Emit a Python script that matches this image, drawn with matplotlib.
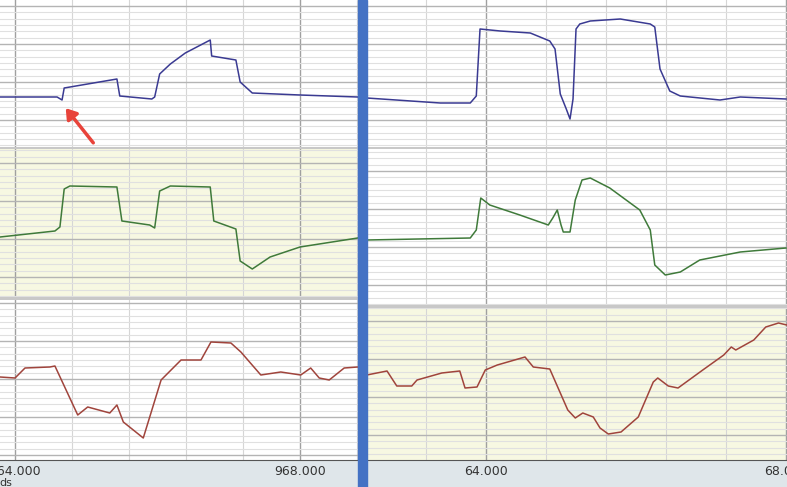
import matplotlib
matplotlib.use("Agg")
import matplotlib.pyplot as plt
from matplotlib.ticker import MultipleLocator
from matplotlib.patches import Rectangle, FancyArrowPatch

# ── Data (time in seconds, amplitude in arbitrary units) ───────────────────
left_blue_t = [963.79, 964.59, 964.66, 964.69, 965.43, 965.47, 965.92, 965.96, 966.03,
               966.18, 966.39, 966.74, 966.76, 967.10, 967.16, 967.33, 968.00, 968.81]
left_blue_v = [50, 50, 47, 59, 68, 51, 48, 50, 73, 83, 94, 107, 91, 87, 65, 54, 52, 50]

left_green_t = [963.79, 964.56, 964.63, 964.69, 964.77, 965.43, 965.50, 965.89, 965.96, 966.03,
                966.18, 966.74, 966.79, 967.10, 967.16, 967.33, 967.58, 968.00, 968.81]
left_green_v = [60, 66, 70, 108, 111, 110, 76, 72, 69, 106, 111, 110, 76, 68, 36, 28, 40, 50, 59]

left_red_t = [963.79, 964.00, 964.14, 964.49, 964.56, 964.88, 965.02, 965.33, 965.43, 965.52,
              965.80, 966.05, 966.33, 966.61, 966.75, 967.03, 967.17, 967.45, 967.73, 968.01,
              968.15, 968.27, 968.41, 968.62, 968.81]
left_red_v = [83, 82, 92, 93, 94, 45, 53, 47, 55, 38, 22, 80, 100, 100, 118, 117, 108, 85,
              88, 85, 92, 82, 80, 92, 93]

right_blue_t = [62.41, 63.39, 63.79, 63.87, 63.92, 64.19, 64.59, 64.85, 64.92, 64.99, 65.07,
                65.12, 65.16, 65.20, 65.25, 65.39, 65.79, 66.19, 66.25, 66.32, 66.45, 66.59,
                67.12, 67.39, 68.00]
right_blue_v = [49, 44, 44, 51, 118, 116, 114, 106, 98, 53, 38, 28, 48, 118, 123, 126, 128,
                123, 120, 78, 56, 51, 47, 50, 48]

right_green_t = [62.41, 63.79, 63.87, 63.93, 64.05, 64.45, 64.83, 64.89, 64.95, 65.00, 65.03,
                 65.12, 65.19, 65.28, 65.39, 65.65, 66.05, 66.19, 66.25, 66.39, 66.59, 66.85,
                 67.39, 68.00]
right_green_v = [65, 67, 75, 107, 100, 90, 80, 87, 95, 80, 73, 73, 105, 125, 127, 117, 95, 75,
                 40, 30, 33, 45, 53, 57]

right_red_t = [62.41, 62.68, 62.81, 63.01, 63.08, 63.41, 63.65, 63.72, 63.88, 63.99, 64.15,
               64.52, 64.63, 64.85, 65.09, 65.19, 65.29, 65.43, 65.52, 65.63, 65.80, 66.03,
               66.23, 66.29, 66.43, 66.56, 66.89, 67.17, 67.27, 67.33, 67.57, 67.73, 67.90, 68.01]
right_red_v = [85, 89, 74, 74, 80, 87, 89, 72, 73, 90, 95, 103, 93, 91, 50, 42, 47, 43, 32, 26,
               28, 43, 78, 82, 74, 72, 90, 105, 113, 110, 120, 133, 137, 135]

left_ticks = [964.0, 968.0]
right_ticks = [64.0, 68.0]
left_labels = ["964.000", "968.000"]
right_labels = ["64.000", "68.000"]

W, H = 787, 487
fig = plt.figure(figsize=(W / 100, H / 100), dpi=100)
fig.patch.set_facecolor("#c8c8c8")

YELLOW = "#f7f8e2"
WHITE = "#ffffff"


def px_axes(x0, y0, x1, y1):
    return fig.add_axes([x0 / W, 1 - y1 / H, (x1 - x0) / W, (y1 - y0) / H])


def row(x0, x1, y0, y1, xlim, t, v, color, bg, major_off):
    ax = px_axes(x0, y0, x1, y1)
    ax.set_facecolor(bg)
    ax.set_xlim(*xlim)
    ax.set_ylim(0, y1 - y0)
    ax.plot(t, v, color=color, lw=1.1)
    ax.yaxis.set_major_locator(MultipleLocator(38, offset=major_off))
    ax.yaxis.set_minor_locator(MultipleLocator(38 / 6, offset=major_off % (38 / 6)))
    ax.xaxis.set_major_locator(MultipleLocator(4))
    ax.xaxis.set_minor_locator(MultipleLocator(0.8))
    ax.grid(True, which="minor", axis="y", color="#e0e0e0", lw=0.8)
    ax.grid(True, which="major", axis="y", color="#b4b4b4", lw=1.0)
    ax.grid(True, which="minor", axis="x", color="#d6d6d6", lw=0.8)
    ax.grid(True, which="major", axis="x", color="#a0a0a0", lw=1.0)
    ax.set_axisbelow(True)
    ax.tick_params(length=0, labelbottom=False, labelleft=False, which="both")
    for s in ax.spines.values():
        s.set_visible(False)
    return ax


LX = (963.789, 968.814)
RX = (62.413, 68.013)

row(0, 358, 0, 147, LX, left_blue_t, left_blue_v, "#3a3a92", WHITE, 27)
row(0, 358, 149, 297, LX, left_green_t, left_green_v, "#3f7a3a", YELLOW, 20)
row(0, 358, 300, 460, LX, left_red_t, left_red_v, "#a0443c", WHITE, 5)
row(367, 787, 0, 147, RX, right_blue_t, right_blue_v, "#3a3a92", WHITE, 27)
row(367, 787, 149, 305, RX, right_green_t, right_green_v, "#3f7a3a", WHITE, 20)
row(367, 787, 308, 460, RX, right_red_t, right_red_v, "#a0443c", YELLOW, 25)

# time axis strips
for (x0, x1, xlim, ticks, labels) in [(0, 358, LX, left_ticks, left_labels),
                                       (367, 787, RX, right_ticks, right_labels)]:
    ax = px_axes(x0, 460, x1, H)
    ax.set_facecolor("#dfe6ea")
    ax.set_xlim(*xlim)
    ax.set_ylim(0, 1)
    ax.set_yticks([])
    ax.set_xticks(ticks)
    ax.set_xticklabels(labels, fontsize=9, color="#333333")
    ax.tick_params(axis="x", direction="in", pad=-16, length=0)
    for s in ax.spines.values():
        s.set_visible(False)
    ax.spines["top"].set_visible(True)
    ax.spines["top"].set_color("#555555")

fig.text(-1 / W, 1 - 488 / H, "ds", fontsize=8, color="#333333", va="bottom")

# blue divider
fig.patches.append(Rectangle((358 / W, 0), 9 / W, 1, transform=fig.transFigure,
                             color="#4472c4", zorder=10))

# red arrow
fig.add_artist(FancyArrowPatch(
    (95 / W, 1 - 145 / H), (64 / W, 1 - 106 / H), transform=fig.transFigure,
    arrowstyle="-|>,head_length=6,head_width=4", color="#e8433a", lw=2.5, zorder=11))

fig.savefig("out.png", dpi=100, facecolor=fig.get_facecolor())
